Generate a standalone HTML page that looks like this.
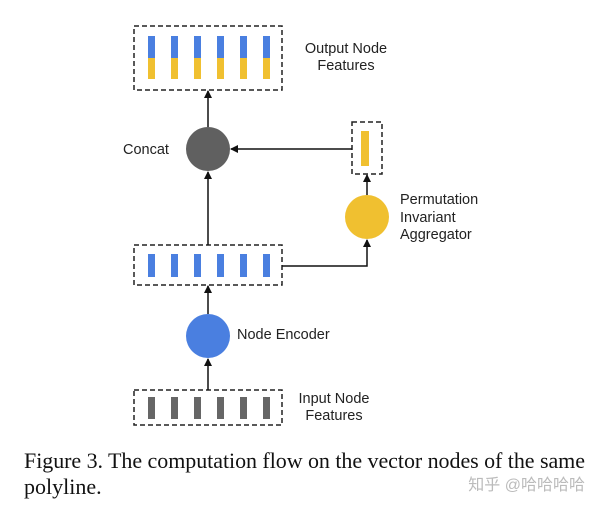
<!DOCTYPE html>
<html><head><meta charset="utf-8"><style>body{margin:0;background:#fff}svg{display:block}</style></head><body>
<svg width="600" height="508" viewBox="0 0 600 508" xmlns="http://www.w3.org/2000/svg">
<defs><marker id="a" markerWidth="8" markerHeight="8" refX="7" refY="4" orient="auto" markerUnits="userSpaceOnUse"><path d="M0,0 L8,4 L0,8 z" fill="#111"/></marker></defs>
<g fill="none" stroke="#222" stroke-width="1.5" stroke-dasharray="5,3">
<rect x="134" y="26" width="148" height="64"/>
<rect x="352" y="122" width="30" height="52"/>
<rect x="134" y="245" width="148" height="40"/>
<rect x="134" y="390" width="148" height="35"/>
</g>
<g>
<rect x="148" y="36" width="7" height="22" fill="#4a7fe0"/><rect x="148" y="58" width="7" height="21" fill="#f0c030"/>
<rect x="171" y="36" width="7" height="22" fill="#4a7fe0"/><rect x="171" y="58" width="7" height="21" fill="#f0c030"/>
<rect x="194" y="36" width="7" height="22" fill="#4a7fe0"/><rect x="194" y="58" width="7" height="21" fill="#f0c030"/>
<rect x="217" y="36" width="7" height="22" fill="#4a7fe0"/><rect x="217" y="58" width="7" height="21" fill="#f0c030"/>
<rect x="240" y="36" width="7" height="22" fill="#4a7fe0"/><rect x="240" y="58" width="7" height="21" fill="#f0c030"/>
<rect x="263" y="36" width="7" height="22" fill="#4a7fe0"/><rect x="263" y="58" width="7" height="21" fill="#f0c030"/>
<rect x="361" y="131" width="8" height="35" fill="#f0c030"/>
</g>
<g fill="#4a7fe0"><rect x="148" y="254" width="7" height="23"/><rect x="171" y="254" width="7" height="23"/><rect x="194" y="254" width="7" height="23"/><rect x="217" y="254" width="7" height="23"/><rect x="240" y="254" width="7" height="23"/><rect x="263" y="254" width="7" height="23"/></g>
<g fill="#666"><rect x="148" y="397" width="7" height="22"/><rect x="171" y="397" width="7" height="22"/><rect x="194" y="397" width="7" height="22"/><rect x="217" y="397" width="7" height="22"/><rect x="240" y="397" width="7" height="22"/><rect x="263" y="397" width="7" height="22"/></g>
<circle cx="208" cy="149" r="22" fill="#606060"/>
<circle cx="367" cy="217" r="22" fill="#f0c030"/>
<circle cx="208" cy="336" r="22" fill="#4a7fe0"/>
<g stroke="#111" stroke-width="1.5" fill="none" marker-end="url(#a)">
<line x1="208" y1="127" x2="208" y2="91"/>
<line x1="352" y1="149" x2="231" y2="149"/>
<line x1="208" y1="245" x2="208" y2="172"/>
<line x1="367" y1="195" x2="367" y2="175"/>
<polyline points="282,266 367,266 367,240"/>
<line x1="208" y1="314" x2="208" y2="286"/>
<line x1="208" y1="390" x2="208" y2="359"/>
</g>
<g font-family="Liberation Sans, sans-serif" font-size="14.5" fill="#222">
<text x="123" y="154">Concat</text>
<text x="346" y="53" text-anchor="middle">Output Node</text>
<text x="346" y="70" text-anchor="middle">Features</text>
<text x="400" y="204">Permutation</text>
<text x="400" y="222">Invariant</text>
<text x="400" y="239">Aggregator</text>
<text x="237" y="339">Node Encoder</text>
<text x="334" y="403" text-anchor="middle">Input Node</text>
<text x="334" y="420" text-anchor="middle">Features</text>
</g>
<g font-family="Liberation Serif, serif" font-size="22" fill="#111">
<text x="24" y="468" textLength="561" lengthAdjust="spacing">Figure 3. The computation flow on the vector nodes of the same</text>
<text x="24" y="494">polyline.</text>
</g>
<text x="585" y="490" text-anchor="end" font-family="Liberation Sans, Noto Sans CJK SC, sans-serif" font-size="16" fill="#bbb">知乎 @哈哈哈哈</text>
</svg>
</body></html>
